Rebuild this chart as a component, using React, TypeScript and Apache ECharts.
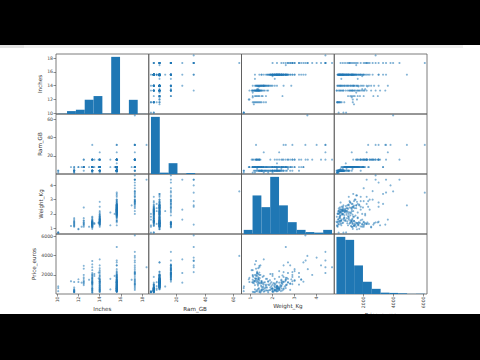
import React, { useEffect, useRef } from "react";
import * as echarts from "echarts";

// Column names of the scatter matrix
const columns = ["Inches", "Ram_GB", "Weight_Kg", "Price_euros"];

// Data range (min, max) of every column
const inchesRange = [10.1, 18.4];
const ramRange = [2, 64];
const weightRange = [0.69, 4.7];
const priceRange = [174, 6099];

// Histogram counts (10 bins over each range)
const inchesHist = [4, 34, 50, 167, 210, 4, 669, 0, 166, 1];
const ramHist = [1057, 25, 200, 3, 17, 0, 0, 0, 0, 1];
const weightHist = [30, 280, 195, 415, 208, 86, 30, 14, 10, 30];
const priceHist = [420, 398, 210, 90, 38, 10, 8, 5, 1, 2];

// Tick labels
const inchesTicks = [10, 12, 14, 16, 18];
const ramTicks = [20, 40, 60];
const weightTicks = [1, 2, 3, 4];
const priceTicks = [2000, 4000, 6000];

// Laptops grouped by screen size: [Ram_GB, Weight_Kg, Price_euros]
const laptops10_1 = [[4, 0.69, 640], [2, 0.69, 320], [4, 0.7, 820]];
const laptops11_3 = [[8, 1.15, 1350]];
const laptops11_6 = [[4, 1.25, 330], [2, 1.2, 210], [4, 1.4, 400], [8, 1.35, 1270], [4, 1.45, 280], [2, 1.1, 250], [4, 1.6, 520], [8, 1.7, 700], [6, 1.3, 450], [4, 1.15, 230], [4, 1.5, 360]];
const laptops12_0 = [[8, 0.92, 1550], [8, 0.95, 1270]];
const laptops12_3 = [[8, 1.1, 1200]];
const laptops12_5 = [[8, 1.3, 1400], [8, 1.36, 1750], [16, 1.25, 2650], [8, 1.5, 1200], [4, 1.2, 950], [8, 1.1, 2000], [16, 1.4, 2950], [8, 1.7, 1600], [8, 1.55, 1100], [8, 2.45, 1300]];
const laptops13_0 = [[8, 1.1, 1500]];
const laptops13_3 = [
  [8, 1.2, 1340], [8, 1.37, 1100], [8, 1.25, 1600], [16, 1.3, 2200], [4, 1.35, 550], [8, 1.1, 1900],
  [8, 1.4, 1200], [16, 1.05, 2500], [4, 1.5, 420], [8, 1.34, 900], [8, 1.6, 1000], [16, 1.4, 2800],
  [4, 1.75, 380], [8, 1.23, 1450], [8, 0.95, 1700], [8, 1.45, 2000], [4, 1.3, 300], [16, 1.2, 3100],
  [8, 1.15, 1150], [32, 1.25, 3450], [4, 1.65, 640], [8, 1.36, 1550], [2, 1.8, 200], [8, 1.28, 1250],
  [16, 1.12, 1800], [8, 1.5, 780], [4, 1.45, 180], [8, 1.32, 1050], [8, 1.18, 1380], [4, 1.55, 480],
  [8, 1.42, 1680], [16, 1.27, 2050], [8, 1.08, 1250], [4, 1.38, 620],
];
const laptops13_5 = [[8, 1.3, 1900], [16, 1.35, 2100]];
const laptops13_9 = [[8, 1.35, 1650], [16, 1.4, 2250]];
const laptops14_0 = [
  [8, 1.6, 1200], [8, 1.7, 1000], [4, 1.5, 500], [8, 1.25, 1650], [16, 1.3, 2200], [4, 1.8, 380],
  [8, 1.95, 850], [8, 1.4, 1450], [4, 1.64, 320], [16, 1.1, 2500], [8, 2.1, 1100], [4, 2.2, 600],
  [8, 1.55, 1800], [16, 1.45, 3000], [8, 1.2, 2000], [4, 1.9, 450], [8, 1.75, 700], [8, 2.5, 1300],
  [24, 1.6, 3620], [16, 1.35, 2700], [8, 1.5, 1350], [4, 1.4, 230], [8, 2.85, 1550], [8, 1.85, 950],
  [2, 1.6, 270], [16, 1.25, 1900], [8, 1.3, 2350], [4, 2.0, 550], [8, 1.65, 1250], [8, 1.58, 780],
  [8, 1.45, 1120], [4, 1.7, 420], [8, 1.35, 1550], [8, 1.8, 1350], [4, 1.55, 690], [8, 1.48, 900],
];
const laptops15_0 = [[16, 2.1, 1600], [8, 1.2, 500]];
const laptops15_4 = [[8, 2.0, 1900]];
const laptops15_6 = [
  [4, 2.2, 480], [4, 2.1, 390], [4, 2.3, 550], [4, 1.86, 420], [4, 2.0, 300], [4, 2.4, 610],
  [4, 2.25, 350], [4, 1.9, 700], [4, 2.15, 450], [4, 2.5, 520], [4, 2.04, 260], [4, 1.7, 880],
  [4, 2.3, 420], [4, 2.6, 640], [4, 2.18, 330], [4, 1.95, 560], [4, 2.35, 750], [4, 2.2, 290],
  [4, 2.45, 400], [4, 1.8, 1000], [4, 2.1, 510], [4, 2.65, 980], [4, 2.0, 360], [4, 3.2, 1800],
  [4, 2.28, 600], [4, 1.5, 1200], [4, 2.08, 440], [4, 2.38, 330], [4, 1.98, 620], [4, 2.24, 700],
  [4, 2.12, 380], [4, 2.32, 480],
  [8, 2.2, 900], [8, 1.9, 1100], [8, 2.5, 1250], [8, 2.1, 750], [8, 2.4, 1400], [8, 1.8, 1300],
  [8, 2.3, 650], [8, 2.6, 1500], [8, 2.0, 1000], [8, 2.7, 1200], [8, 2.2, 850], [8, 1.75, 1600],
  [8, 2.45, 1050], [8, 2.9, 1350], [8, 2.15, 700], [8, 1.6, 1900], [8, 2.35, 950], [8, 2.05, 1150],
  [8, 2.55, 800], [8, 3.0, 1450], [8, 2.25, 550], [8, 1.95, 1250], [8, 2.65, 1700], [8, 2.4, 900],
  [8, 3.3, 1550], [8, 2.12, 1000], [8, 1.5, 1350], [8, 2.5, 2300], [8, 2.8, 1100], [8, 2.3, 1800],
  [8, 2.0, 600], [8, 2.62, 1000], [8, 1.4, 2000], [8, 3.4, 3300], [8, 1.2, 1650], [8, 2.18, 1200],
  [8, 2.28, 780], [8, 1.88, 1450], [8, 2.42, 1150], [8, 2.08, 880], [8, 2.58, 1350],
  [16, 2.5, 1800], [16, 2.7, 2200], [16, 2.4, 1500], [16, 3.0, 2600], [16, 2.2, 1300], [16, 2.8, 3000],
  [16, 1.9, 2100], [16, 2.6, 1700], [16, 3.5, 3500], [16, 2.3, 2400], [16, 2.45, 1950], [16, 2.9, 2000],
  [32, 2.6, 4900], [32, 2.5, 3000], [6, 2.2, 600], [6, 2.4, 850], [6, 2.7, 1250], [12, 2.2, 800],
  [2, 2.0, 250], [24, 2.3, 1200],
];
const laptops17_0 = [[8, 2.6, 1500]];
const laptops17_3 = [
  [8, 2.8, 1100], [8, 3.0, 1400], [16, 2.9, 1800], [16, 3.2, 2200], [4, 2.5, 600], [8, 2.6, 900],
  [16, 3.6, 2600], [16, 4.2, 3000], [32, 4.4, 3500], [8, 3.4, 1300], [16, 2.7, 1600], [8, 2.2, 750],
  [4, 2.8, 450], [16, 3.8, 2000], [16, 4.7, 2800], [8, 3.2, 1000], [16, 3.0, 2400], [8, 2.4, 1200],
  [32, 3.49, 6099], [64, 3.58, 3975], [16, 4.4, 4400], [16, 3.3, 1500], [8, 2.0, 2100], [32, 4.0, 3800],
  [8, 2.7, 3300], [24, 4.4, 2200], [32, 2.9, 2300], [4, 2.9, 1050],
];
const laptops18_4 = [[32, 4.4, 2800]];

const screenGroups: [number, number[][]][] = [
  [10.1, laptops10_1], [11.3, laptops11_3], [11.6, laptops11_6], [12.0, laptops12_0],
  [12.3, laptops12_3], [12.5, laptops12_5], [13.0, laptops13_0], [13.3, laptops13_3],
  [13.5, laptops13_5], [13.9, laptops13_9], [14.0, laptops14_0], [15.0, laptops15_0],
  [15.4, laptops15_4], [15.6, laptops15_6], [17.0, laptops17_0], [17.3, laptops17_3],
  [18.4, laptops18_4],
];

const FONT = "DejaVu Sans";
const BLUE = "#1f77b4";

export default function App() {
  const ref = useRef<HTMLDivElement>(null);

  useEffect(() => {
    if (!ref.current) return;
    const chart = echarts.init(ref.current, undefined, { renderer: "svg" });

    const rows = screenGroups.flatMap(([inch, list]) => list.map((r) => [inch, r[0], r[1], r[2]]));
    const ranges = [inchesRange, ramRange, weightRange, priceRange];
    const padded = ranges.map(([a, b]) => [a - (b - a) * 0.025, b + (b - a) * 0.025]);
    const hists = [inchesHist, ramHist, weightHist, priceHist];
    const ticks = [inchesTicks, ramTicks, weightTicks, priceTicks];

    const colX = [56, 148.75, 241.5, 334.25];
    const rowY = [54, 114, 174, 234];
    const cw = 92.75;
    const rh = 60;
    const xNameGap = [9, 10, 8, 15];
    const yNameGap = [11, 12, 12, 18];

    const grid: any[] = [];
    const xAxis: any[] = [];
    const yAxis: any[] = [];
    const series: any[] = [];

    const labelStyle = { fontSize: 4.6, color: "#444", fontFamily: FONT };
    const nameStyle = { fontSize: 5.6, color: "#333", fontFamily: FONT };
    const tickStyle = { length: 2.5, lineStyle: { color: "#444", width: 0.6 } };

    for (let r = 0; r < 4; r++) {
      for (let c = 0; c < 4; c++) {
        const i = r * 4 + c;
        grid.push({
          left: colX[c], top: rowY[r], width: cw, height: rh,
          show: true, borderColor: "#5a5a5a", borderWidth: 0.8, backgroundColor: "transparent",
        });
        xAxis.push({
          gridIndex: i, type: "value", min: padded[c][0], max: padded[c][1],
          axisLine: { show: false }, splitLine: { show: false },
          axisTick: { show: r === 3, ...tickStyle, customValues: ticks[c] },
          axisLabel: {
            show: r === 3, rotate: 90, margin: 2.5, ...labelStyle,
            customValues: ticks[c], formatter: (v: number) => String(v),
          },
          name: r === 3 ? columns[c] : "", nameLocation: "middle", nameGap: xNameGap[c],
          nameTextStyle: nameStyle,
        });
        if (r === c) {
          const maxCount = Math.max(...hists[c]);
          yAxis.push({
            gridIndex: i, type: "value", min: 0, max: maxCount * 1.05, show: false, position: "right",
          });
          const [a, b] = ranges[c];
          const w = (b - a) / hists[c].length;
          series.push({
            type: "custom", xAxisIndex: i, yAxisIndex: i, silent: true,
            data: hists[c].map((n, k) => [a + k * w, a + (k + 1) * w, n]),
            encode: { x: [0, 1], y: 2 },
            renderItem: (_p: any, api: any) => {
              const p0 = api.coord([api.value(0), 0]);
              const p1 = api.coord([api.value(1), api.value(2)]);
              return {
                type: "rect",
                shape: { x: p0[0], y: p1[1], width: p1[0] - p0[0], height: p0[1] - p1[1] },
                style: { fill: BLUE },
              };
            },
          });
        } else {
          yAxis.push({
            gridIndex: i, type: "value", min: padded[r][0], max: padded[r][1], position: "left",
            axisLine: { show: false }, splitLine: { show: false },
            axisTick: { show: c === 0, ...tickStyle, customValues: ticks[r] },
            axisLabel: {
              show: c === 0, margin: 3, ...labelStyle,
              customValues: ticks[r], formatter: (v: number) => String(v),
            },
            name: c === 0 ? columns[r] : "", nameLocation: "middle", nameGap: yNameGap[r],
            nameTextStyle: nameStyle,
          });
          series.push({
            type: "scatter", xAxisIndex: i, yAxisIndex: i, silent: true,
            symbolSize: 2.1,
            itemStyle: { color: BLUE, opacity: 0.55 },
            data: rows.map((row) => [row[c], row[r]]),
          });
        }
      }
    }
    // Inches labels on the left of the first (histogram) cell
    yAxis.push({
      gridIndex: 0, type: "value", min: padded[0][0], max: padded[0][1], position: "left",
      axisLine: { show: false }, splitLine: { show: false },
      axisTick: { show: true, ...tickStyle, customValues: ticks[0] },
      axisLabel: { show: true, margin: 3, ...labelStyle, customValues: ticks[0], formatter: (v: number) => String(v) },
      name: columns[0], nameLocation: "middle", nameGap: yNameGap[0], nameTextStyle: nameStyle,
    });

    chart.setOption({
      animation: false,
      backgroundColor: "#ffffff",
      grid, xAxis, yAxis, series,
      graphic: [
        { type: "rect", shape: { x: 0, y: 45, width: 463, height: 3 }, style: { fill: "#efefef" }, z: 100 },
        { type: "rect", shape: { x: 0, y: 45, width: 24, height: 3 }, style: { fill: "#e2e2e2" }, z: 100 },
        { type: "rect", shape: { x: 0, y: 0, width: 480, height: 45 }, style: { fill: "#000000" }, z: 100 },
        { type: "rect", shape: { x: 0, y: 314, width: 480, height: 46 }, style: { fill: "#000000" }, z: 100 },
      ],
    });
    return () => chart.dispose();
  }, []);

  return (
    <div
      ref={ref}
      style={{ position: "fixed", left: 0, top: 0, width: 480, height: 360 }}
    />
  );
}
